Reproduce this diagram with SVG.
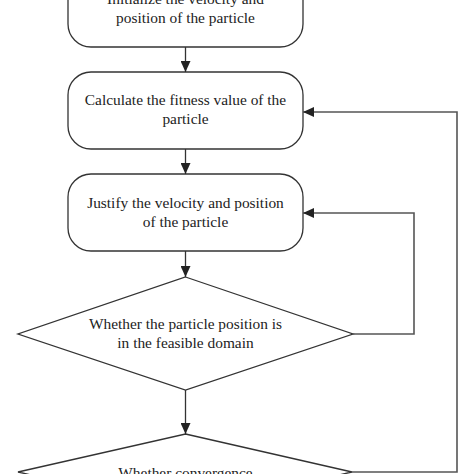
<svg xmlns="http://www.w3.org/2000/svg" width="474" height="474" viewBox="0 0 474 474">
<defs>
<marker id="ah" viewBox="0 0 11 10" refX="11" refY="5" markerWidth="11" markerHeight="10" markerUnits="userSpaceOnUse" orient="auto">
<path d="M0,0 L11,5 L0,10 Z" fill="#222"/>
</marker>
<style>
.box{fill:#fff;stroke:#333;stroke-width:1.3}
.ln{fill:none;stroke:#333;stroke-width:1.3}
.fb{fill:none;stroke:#555;stroke-width:1.6}
text{font-family:"Liberation Serif","Times New Roman",serif;font-size:15.4px;fill:#222;text-anchor:middle}
</style>
</defs>
<rect width="474" height="474" fill="#fff"/>
<g id="init">
<rect class="box" x="68" y="-30" width="235" height="77" rx="23" ry="23"/>
<text x="185.5" y="4">Initialize the velocity and</text>
<text x="185.5" y="23">position of the particle</text>
</g>
<g id="fitness">
<rect class="box" x="68" y="72" width="235" height="77" rx="23" ry="23"/>
<text x="185.5" y="105">Calculate the fitness value of the</text>
<text x="185.5" y="124">particle</text>
</g>
<g id="justify">
<rect class="box" x="68" y="174" width="235" height="77" rx="23" ry="23"/>
<text x="185.5" y="208">Justify the velocity and position</text>
<text x="185.5" y="227">of the particle</text>
</g>
<g id="feasible">
<polygon class="box" points="185.5,277 353,334 185.5,390 18,334"/>
<text x="185.5" y="329">Whether the particle position is</text>
<text x="185.5" y="348">in the feasible domain</text>
</g>
<g id="convergence">
<polygon class="box" points="185.5,434 352,472 185.5,510 18,472"/>
<text x="185.5" y="478">Whether convergence</text>
</g>
<g id="connectors">
<line class="ln" x1="185.5" y1="47" x2="185.5" y2="72" marker-end="url(#ah)"/>
<line class="ln" x1="185.5" y1="149" x2="185.5" y2="174" marker-end="url(#ah)"/>
<line class="ln" x1="185.5" y1="251" x2="185.5" y2="277" marker-end="url(#ah)"/>
<line class="ln" x1="185.5" y1="390" x2="185.5" y2="434" marker-end="url(#ah)"/>
<polyline class="fb" points="353,334 414,334 414,213 303,213" marker-end="url(#ah)"/>
<polyline class="fb" points="352,472 457,472 457,112 303,112" marker-end="url(#ah)"/>
</g>
</svg>
